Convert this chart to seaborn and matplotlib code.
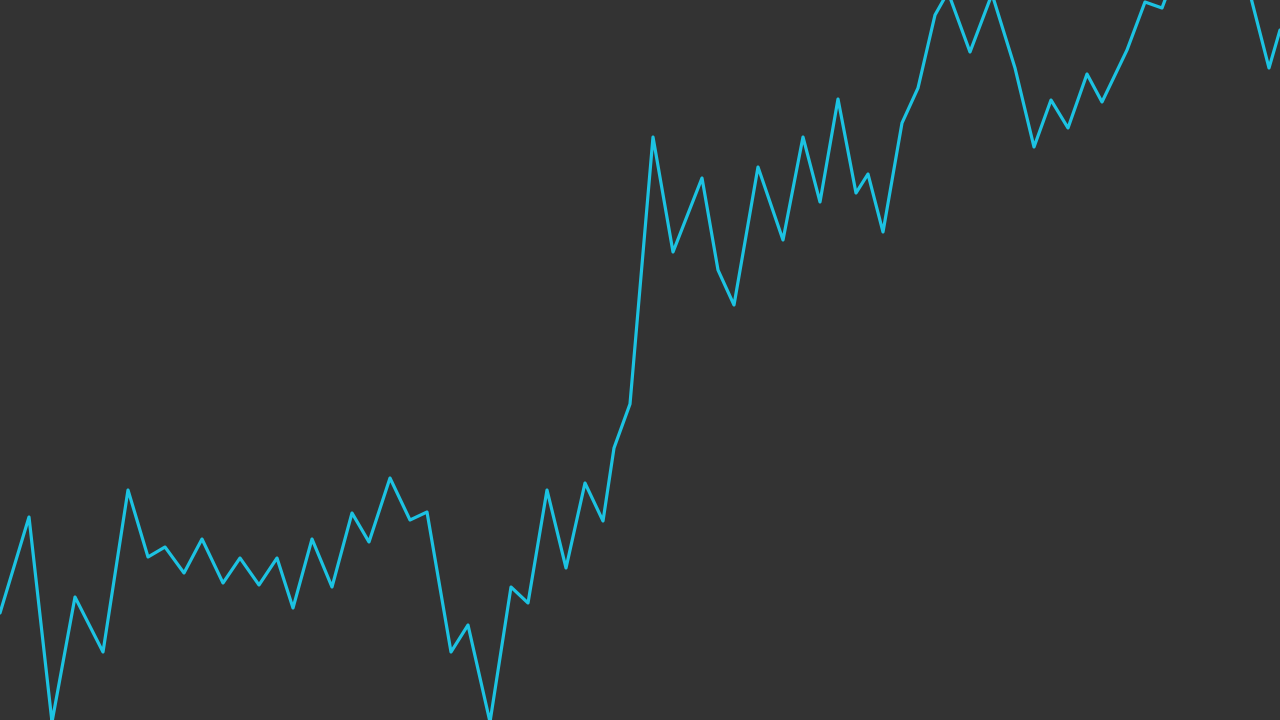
import numpy as np
import pandas as pd
import matplotlib
matplotlib.use("Agg")
import matplotlib.pyplot as plt
import seaborn as sns

# Позиції точок по осі x (нерівномірний крок)
t = [0, 29, 52, 75, 103, 128, 148, 165, 184, 202, 223, 240, 259, 277, 293, 312,
     332, 352, 369, 390, 410, 427, 451, 468, 490, 511, 528, 547, 566, 585, 603,
     614, 630, 653, 673, 702, 718, 734, 758, 783, 803, 820, 838, 856, 868, 883,
     902, 918, 935, 948, 970, 992, 1015, 1034, 1051, 1068, 1087, 1102, 1127,
     1145, 1162, 1180, 1210, 1240, 1269, 1280]

# Значення ряду
value = [107, 203, -2, 123, 68, 230, 163, 173, 147, 181, 137, 162, 135, 162,
         112, 181, 133, 207, 178, 242, 200, 208, 68, 95, -2, 133, 117, 230, 152,
         237, 199, 272, 316, 583, 468, 542, 450, 415, 553, 480, 583, 518, 621,
         527, 546, 488, 597, 632, 705, 728, 668, 726, 652, 573, 620, 592, 646,
         618, 670, 718, 712, 760, 735, 765, 652, 690]

df = pd.DataFrame({"t": t, "value": value})

sns.set_style("dark")
fig = plt.figure(figsize=(12.8, 7.2), dpi=100, facecolor="#333333")
ax = fig.add_axes([0, 0, 1, 1])
ax.set_facecolor("#333333")

sns.lineplot(data=df, x="t", y="value", color="#1cc3e2", linewidth=2.3,
             estimator=None, sort=False, ax=ax)

ax.set_xlim(0, 1280)
ax.set_ylim(0, 720)
ax.set_axis_off()

plt.savefig("out.png", dpi=100, facecolor="#333333")
